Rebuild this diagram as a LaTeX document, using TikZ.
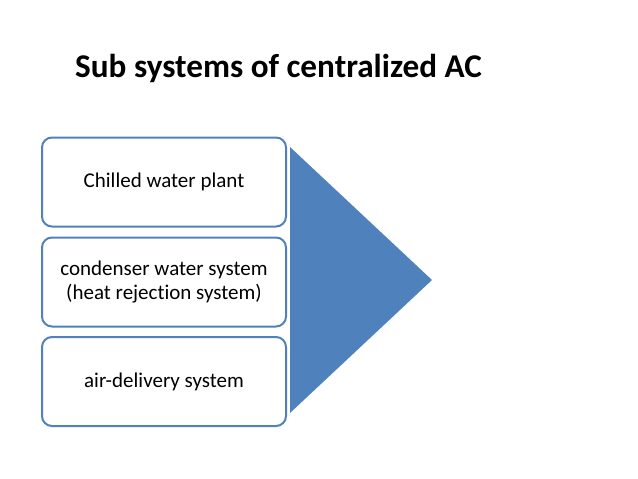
\documentclass[tikz,border=0pt]{standalone}
\usepackage{fontspec}
\setmainfont[Ligatures={NoCommon}]{Carlito}
\definecolor{officeblue}{HTML}{4F81BD}
\begin{document}
\begin{tikzpicture}[x=1pt,y=-1pt,
  subbox/.style={draw=officeblue, line width=2pt, fill=white, rounded corners=10pt,
    minimum width=244pt, minimum height=89pt, inner sep=0pt, align=center,
    font=\fontsize{21}{24}\selectfont},
  titletext/.style={font=\fontsize{33.2}{40}\selectfont\bfseries, inner sep=0pt}]
\useasboundingbox (0,0) rectangle (638,479);
\node[titletext, anchor=base west] (title) at (75,77) {Sub systems of centralized AC};
\fill[officeblue] (290,147) coordinate (tA) -- (432,280) coordinate (tB) -- (290,413) coordinate (tC) -- cycle;
\node[subbox] (b1) at (164,182) {Chilled water plant};
\node[subbox] (b2) at (164,282) {condenser water system\\(heat rejection system)};
\node[subbox] (b3) at (164,381.5) {air-delivery system};
\end{tikzpicture}
\end{document}
